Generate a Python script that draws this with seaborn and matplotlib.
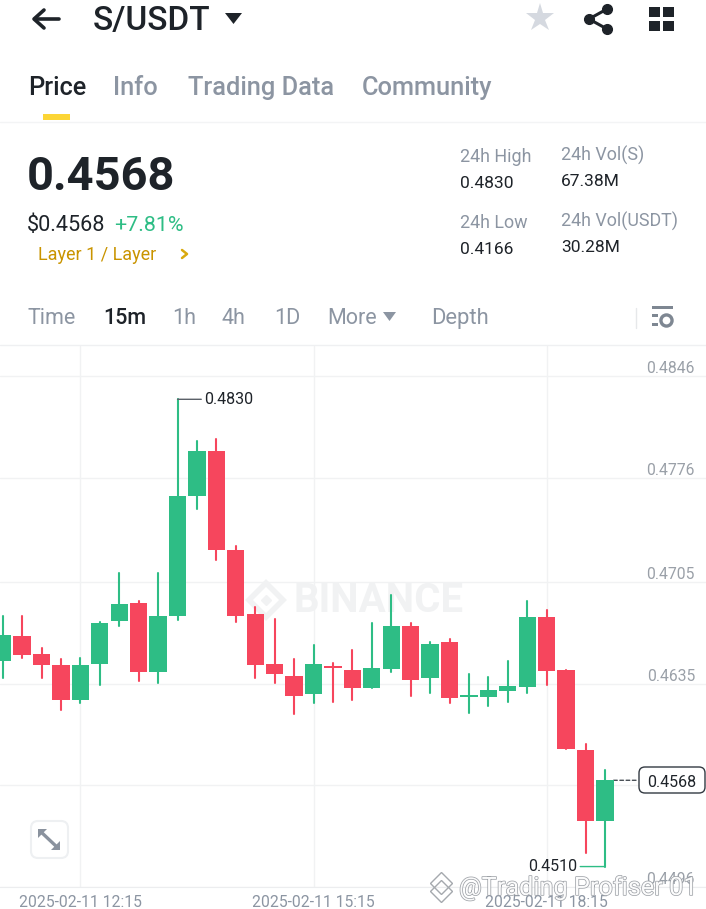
import numpy as np
import pandas as pd
import seaborn as sns
import matplotlib.pyplot as plt
from matplotlib.patches import FancyBboxPatch, Rectangle, Polygon
import matplotlib.patheffects as pe

opens = [.46510, .46677, .46558, .46478, .46241, .46490, .46780, .46908, .46430, .46818,
         .47638, .47944, .47266, .46828, .46487, .46408, .46282, .46469, .46446, .46321,
         .46451, .46748, .46392, .46638, .46264, .46264, .46302, .46332, .46807, .46449,
         .45898, .45412]
closes = [.46686, .46549, .46481, .46241, .46478, .46768, .46896, .46430, .46816, .47636,
          .47944, .47268, .46818, .46481, .46419, .46271, .46487, .46462, .46321, .46458,
          .46748, .46380, .46627, .46252, .46271, .46309, .46339, .46807, .46442, .45903,
          .45412, .45691]
highs = [.46816, .46816, .46595, .46519, .46526, .46777, .47108, .46919, .47108, .48300,
         .48017, .48026, .47298, .46878, .46798, .46519, .46618, .46496, .46583, .46766,
         .46960, .46766, .46638, .46656, .46417, .46398, .46508, .46919, .46857, .46449,
         .45939, .45759]
lows = [.46389, .46531, .46389, .46172, .46223, .46341, .46748, .46371, .46360, .46789,
        .47547, .47197, .46777, .46389, .46357, .46143, .46223, .46229, .46241, .46321,
        .46430, .46268, .46291, .46220, .46150, .46202, .46227, .46291, .46341, .45903,
        .45191, .45100]

price_ticks = [.4846, .4776, .4705, .4635, .4566, .4496]
price_labels = ["0.4846", "0.4776", "0.4705", "0.4635", "0.4566", "0.4496"]
time_idx = [4, 16, 28]
time_labels = ["2025-02-11 12:15", "2025-02-11 15:15", "2025-02-11 18:15"]

GREEN = "#2EBD85"
RED = "#F6465D"
DARK = "#1E2329"
GREY = "#8C95A2"
GRID = "#F1F2F3"

sns.set_style("white")
plt.rcParams["font.family"] = ["Roboto", "DejaVu Sans"]

df = pd.DataFrame({"idx": range(len(opens)), "open": opens, "close": closes, "high": highs, "low": lows})
df["up"] = df["close"] >= df["open"]
df["bottom"] = df[["open", "close"]].min(axis=1)
df["height"] = (df["close"] - df["open"]).abs().clip(lower=0.00012)

fig = plt.figure(figsize=(7.06, 9.09), dpi=100, facecolor="white")

# Binance watermark sits behind the candles
bg = fig.add_axes([0, 0, 1, 1], zorder=0)
bg.set_xlim(0, 706)
bg.set_ylim(909, 0)
bg.axis("off")
bg.text(294, 601.5, "BINANCE", fontsize=29, color="#F1F2F3", fontweight="bold", va="center")
bg.plot([266], [600], marker="D", ms=17, mfc="none", mec="#F1F2F3", mew=4)
bg.plot([266], [600], marker="D", ms=5, color="#F1F2F3")

# chart area in figure pixels: y 346..887 of 909
ax = fig.add_axes([0, (909 - 887) / 909, 1, (887 - 346) / 909], zorder=1)
ax.set_facecolor("none")

wicks = df.melt(id_vars=["idx", "up"], value_vars=["high", "low"], value_name="price")
sns.lineplot(data=wicks, x="idx", y="price", units="idx", estimator=None, hue="up",
             palette={True: GREEN, False: RED}, linewidth=1.5, legend=False, ax=ax, zorder=3)
for is_up, col in [(True, GREEN), (False, RED)]:
    part = df[df["up"] == is_up]
    sns.barplot(data=part, x="idx", y="height", bottom=part["bottom"].values, native_scale=True,
                color=col, saturation=1, width=0.89, errorbar=None, linewidth=0, ax=ax, zorder=4)

ax.set_xlim(-0.139, 36.2)
ax.set_ylim(.4496, .48665)
ax.set_xlabel("")
ax.set_ylabel("")

ax.set_yticks(price_ticks)
ax.set_yticklabels(price_labels)
ax.set_xticks(time_idx)
ax.set_xticklabels(time_labels)
ax.grid(True, color=GRID, linewidth=1)
ax.set_axisbelow(True)
ax.yaxis.tick_right()
ax.tick_params(axis="y", length=0, pad=-8, labelsize=11.3, labelcolor="#9AA0A8")
ax.tick_params(axis="x", length=0, pad=6, labelsize=11.3, labelcolor=GREY)
for lab in ax.get_yticklabels():
    lab.set_ha("right")
    lab.set_va("bottom")
for side in ["top", "left", "right"]:
    ax.spines[side].set_visible(False)
ax.spines["bottom"].set_color("#ECEDEF")

# high / low / last price callouts
ax.annotate("0.4830", xy=(9, .4830), xytext=(27, 0), textcoords="offset pixels", fontsize=11.5,
            color=DARK, va="center", zorder=6,
            arrowprops=dict(arrowstyle="-", color="#5A6068", lw=1, shrinkA=0, shrinkB=0))
ax.annotate("0.4510", xy=(31, .4510), xytext=(-28, 0), textcoords="offset pixels", fontsize=11.5,
            color=DARK, va="center", ha="right", zorder=6,
            arrowprops=dict(arrowstyle="-", color=GREEN, lw=1, shrinkA=0, shrinkB=0))
ax.annotate("", xy=(31.4, closes[-1]), xytext=(32.6, closes[-1]),
            arrowprops=dict(arrowstyle="-", color="#333A42", lw=0.9, ls=(0, (3, 2)), shrinkA=0, shrinkB=0))

# everything else lives in figure pixels
ui = fig.add_axes([0, 0, 1, 1], zorder=5)
ui.set_xlim(0, 706)
ui.set_ylim(909, 0)
ui.axis("off")
ui.patch.set_alpha(0)


def txt(x, y, s, size, color=DARK, weight="normal", ha="left", **kw):
    return ui.text(x, y + 1.5, s, fontsize=size, color=color, fontweight=weight, ha=ha, va="center", **kw)


# header
ui.plot([35, 59], [19, 19], color=DARK, lw=2.6)
ui.plot([44, 34, 44], [10, 19, 28], color=DARK, lw=2.6)
txt(93, 20, "S/USDT", 24, weight="medium")
ui.add_patch(Polygon([[225, 13], [242, 13], [233.5, 24]], color=DARK, lw=0))
ui.plot([540], [18], marker="*", ms=21, color="#D5D9E0", mew=0)
ui.plot([607, 589, 607], [9, 19, 29], color=DARK, lw=2.2)
ui.plot([607, 589, 607], [9, 19, 29], "o", color=DARK, ms=7)
for px in [649, 663]:
    for py in [7, 21]:
        ui.add_patch(Rectangle((px, py), 11, 10, color=DARK, lw=0))

# tabs
txt(28, 86.5, "Price", 18.3, weight="medium")
txt(113, 86.5, "Info", 18.3, color=GREY, weight="medium")
txt(188, 86.5, "Trading Data", 18.3, color=GREY, weight="medium")
txt(362, 86.5, "Community", 18.3, color=GREY, weight="medium")
ui.add_patch(Rectangle((43, 114), 27, 6, color="#FCD535", lw=0))
ui.plot([0, 706], [122, 122], color="#F3F4F5", lw=1)

# price block
txt(27, 176, "0.4568", 33.8, weight="bold")
txt(27, 224, "$0.4568", 15.6)
txt(114, 224, "+7.81%", 15.4, color=GREEN)
txt(38, 253, "Layer 1 / Layer", 13, color="#C99400")
ui.plot([182, 187, 182], [250, 254, 258], color="#D9A90F", lw=1.8)

# stats
txt(460, 156, "24h High", 12.9, color=GREY)
txt(460, 182, "0.4830", 12.5)
txt(460, 222, "24h Low", 12.9, color=GREY)
txt(460, 248, "0.4166", 12.5)
txt(561, 154, "24h Vol(S)", 12.9, color=GREY)
txt(561, 180, "67.38M", 12.5)
txt(561, 220, "24h Vol(USDT)", 12.9, color=GREY)
txt(561, 246, "30.28M", 12.5)

# interval bar
txt(27, 317, "Time", 15.5, color=GREY)
txt(103, 317, "15m", 15.5, weight="medium")
txt(172, 317, "1h", 15.5, color=GREY)
txt(222, 317, "4h", 15.5, color=GREY)
txt(274, 317, "1D", 15.5, color=GREY)
txt(327, 317, "More", 15.5, color=GREY)
ui.add_patch(Polygon([[383, 312], [396, 312], [389.5, 321]], color=GREY, lw=0))
txt(431, 317, "Depth", 15.8, color=GREY)
ui.plot([636, 636], [308, 328], color="#E6E8EA", lw=1)
ui.add_patch(Rectangle((652, 306), 21, 3, color="#7E8792", lw=0))
ui.add_patch(Rectangle((652, 314), 6, 3, color="#7E8792", lw=0))
ui.add_patch(Rectangle((652, 323), 6, 3, color="#7E8792", lw=0))
ui.plot([666], [320], "o", ms=8, mfc="white", mec="#7E8792", mew=2.4)
ui.plot([0, 706], [345, 345], color="#EFF0F2", lw=1)

# last price tag
ui.add_patch(FancyBboxPatch((639, 767), 66, 26, boxstyle="round,pad=0,rounding_size=6",
                            fc="white", ec="#333A42", lw=1))
txt(672, 781, "0.4568", 11.5, ha="center")

# expand button
ui.add_patch(FancyBboxPatch((31, 821), 37, 37, boxstyle="round,pad=0,rounding_size=7",
                            fc="white", ec="#EEF0F2", lw=1.5))
ui.add_patch(Polygon([[38, 829], [47, 829], [38, 838]], color="#8A929E", lw=0))
ui.add_patch(Polygon([[60, 850], [51, 850], [60, 841]], color="#8A929E", lw=0))
ui.plot([40, 58], [831, 848], color="#8A929E", lw=2.4)
ui.add_patch(Rectangle((46, 836), 6, 6, color="white", lw=0))

# photo watermark
stroke = [pe.withStroke(linewidth=1.1, foreground="#9A9EA4")]
txt(459, 886, "@Trading Profiser 01", 18.2, color="white", path_effects=stroke, alpha=0.95)
ui.plot([441], [883], marker="D", ms=11, mfc="none", mec="#A5A9AE", mew=1)
ui.plot([441], [891], marker="D", ms=11, mfc="none", mec="#A5A9AE", mew=1)

fig.savefig("out.png", dpi=100)
